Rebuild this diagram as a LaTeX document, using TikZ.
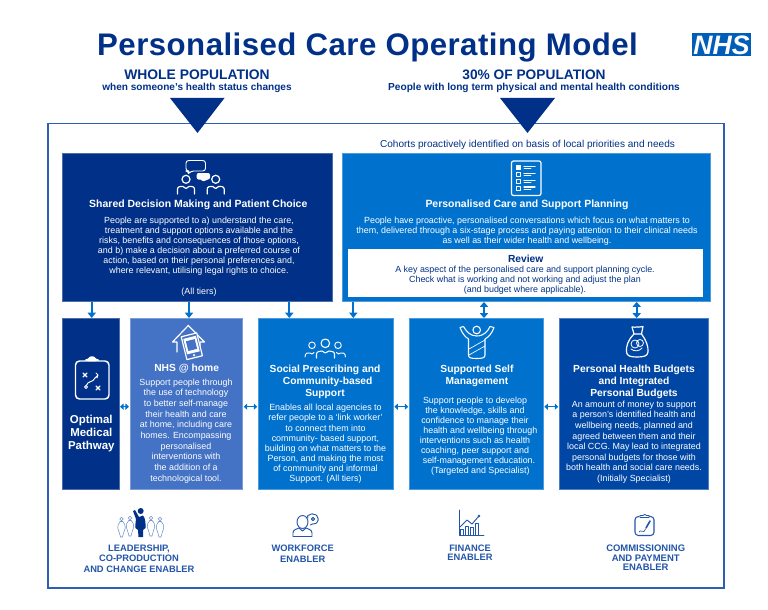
\documentclass[tikz,border=0pt]{standalone}
\usepackage{fontspec}
\setmainfont{Liberation Sans}
\usetikzlibrary{fit,arrows.meta}
\definecolor{nhsdark}{HTML}{003087}
\definecolor{nhsbright}{HTML}{0072CE}
\definecolor{nhsmid}{HTML}{4472C4}
\definecolor{nhsroyal}{HTML}{0047A5}
\definecolor{framec}{HTML}{2F5FB3}
\definecolor{enablerc}{HTML}{2356A8}
\definecolor{logoc}{HTML}{005EB8}
\newcommand\fs[2]{\fontsize{#1}{#2}\selectfont}
\tikzset{
 x=0.75pt,y=-0.75pt,
 boxn/.style={fit={#1},inner sep=0pt,line width=0.4pt},
 txt/.style={inner sep=0pt,align=center,yshift=-0.75pt},
 body/.style={txt,text=white,font=\fs{6.68}{7.5}},
 bodyb/.style={txt,text=white,font=\fs{6.68}{8}},
 head/.style={txt,text=white,font=\bfseries\fs{7.7}{9.1}},
 enab/.style={txt,text=enablerc,font=\bfseries\fs{7}{8}},
 arrd/.style={draw=nhsbright,line width=1.7pt,-{Triangle[length=4pt,width=6pt]}},
 arrb/.style={draw=nhsbright,line width=1.7pt,{Triangle[length=3.6pt,width=6pt]}-{Triangle[length=3.6pt,width=6pt]}},
 arrh/.style={draw=nhsbright,line width=1.1pt,{Triangle[length=2.6pt,width=4.6pt]}-{Triangle[length=2.6pt,width=4.6pt]},shorten >=0.6pt,shorten <=0.6pt},
 ico/.style={draw=white,line width=0.9pt,line cap=round,line join=round},
 eico/.style={draw=enablerc,line width=0.7pt,line cap=round,line join=round},
}
\begin{document}
\begin{tikzpicture}
\useasboundingbox (0,0) rectangle (768,610);
\fill[white] (0,0) rectangle (768,610);
% titles
\node[txt,text=nhsdark,font=\bfseries\fs{23.4}{26}\addfontfeature{LetterSpace=1.5}] (title) at (367.5,47) {Personalised Care Operating Model};
\node[boxn={(692,33)(751,56)},fill=logoc] (logo) {};
\node[txt,text=white,font=\bfseries\itshape\fs{20}{20}] (logot) at (721.5,44) {NHS};
\node[txt,text=nhsdark,font=\bfseries\fs{10.4}{12}] (wp) at (197,73.5) {WHOLE POPULATION};
\node[txt,text=nhsdark,font=\bfseries\fs{7.55}{9}] (wps) at (197,86.5) {when someone's health status changes};
\node[txt,text=nhsdark,font=\bfseries\fs{10.3}{12}] (tp) at (534,73.5) {30\% OF POPULATION};
\node[txt,text=nhsdark,font=\bfseries\fs{7.6}{9}] (tps) at (534,86.5) {People with long term physical and mental health conditions};
% frame
\node[boxn={(48,123.5)(724,588)},draw=framec,line width=1.1pt] (frame) {};
\fill[nhsdark] (170,98) -- (224.5,98) -- (197.5,133) -- cycle;
\fill[nhsdark] (500,98) -- (555,98) -- (527.5,133) -- cycle;
\node[txt,text=nhsdark,font=\fs{7.55}{9}] (coh) at (527.5,143.5) {Cohorts proactively identified on basis of local priorities and needs};
% upper boxes
\node[boxn={(62.7,153.5)(332,301.7)},fill=nhsdark,draw=nhsdark!70!white] (sdm) {};
\node[boxn={(342.3,153.5)(710,301.7)},fill=nhsbright,draw=nhsbright!70!white] (pcsp) {};
\node[boxn={(347.7,249.3)(703.3,296.7)},fill=white] (rev) {};
% lower boxes
\node[boxn={(62.7,318.3)(119,489)},fill=nhsdark,draw=nhsdark!70!white] (omp) {};
\node[boxn={(130,318.3)(242.7,489)},fill=nhsmid,draw=nhsmid!70!white] (home) {};
\node[boxn={(258.3,318.3)(393.3,489)},fill=nhsbright,draw=nhsbright!70!white] (soc) {};
\node[boxn={(409.3,318.3)(543.3,489)},fill=nhsbright,draw=nhsbright!70!white] (ssm) {};
\node[boxn={(559.3,318.3)(708.3,489)},fill=nhsroyal,draw=nhsroyal!70!white] (phb) {};
% connector positions
\coordinate (c1) at (91.7,0);
\coordinate (c2) at (189,0);
\coordinate (c3) at (289.3,0);
\coordinate (c4) at (353.3,0);
\coordinate (c5) at (484,0);
\coordinate (c6) at (636.7,0);
\coordinate (hy) at (0,406.7);
\draw[arrd] (sdm.south -| c1) -- (omp.north -| c1);
\draw[arrd] (sdm.south -| c2) -- (home.north -| c2);
\draw[arrd] (sdm.south -| c3) -- (soc.north -| c3);
\draw[arrd] (pcsp.south -| c4) -- (soc.north -| c4);
\draw[arrb] (pcsp.south -| c5) -- (ssm.north -| c5);
\draw[arrb] (pcsp.south -| c6) -- (phb.north -| c6);
\draw[arrh] (omp.east |- hy) -- (home.west |- hy);
\draw[arrh] (home.east |- hy) -- (soc.west |- hy);
\draw[arrh] (soc.east |- hy) -- (ssm.west |- hy);
\draw[arrh] (ssm.east |- hy) -- (phb.west |- hy);
% texts upper
\node[head,font=\bfseries\fs{7.85}{9}] (sdmh) at (198.3,204.3) {Shared Decision Making and Patient Choice};
\node[body] (sdmb) at (199,245) {People are supported to a) understand the care,\\treatment and support options available and the\\risks, benefits and consequences of those options,\\and b) make a decision about a preferred course of\\action, based on their personal preferences and,\\where relevant, utilising legal rights to choice.};
\node[body] (sdmt) at (199,291) {(All tiers)};
\node[head,font=\bfseries\fs{7.85}{9}] (pcsph) at (527,204.3) {Personalised Care and Support Planning};
\node[body] (pcspb) at (527,230) {People have proactive, personalised conversations which focus on what matters to\\them, delivered through a six-stage process and paying attention to their clinical needs\\as well as their wider health and wellbeing.};
\node[txt,text=nhsdark,font=\bfseries\fs{7.7}{9}] (revh) at (525.7,258.3) {Review};
\node[txt,text=nhsdark,font=\fs{6.68}{7.25}] (revb) at (525,279.3) {A key aspect of the personalised care and support planning cycle.\\Check what is working and not working and adjust the plan\\(and budget where applicable).};
% texts lower
\node[txt,text=white,font=\bfseries\fs{8.6}{9.75}] (ompt) at (91.3,433) {Optimal\\Medical\\Pathway};
\node[head] (homeh) at (186.7,368) {NHS @ home};
\node[bodyb] (homeb) at (186,430) {Support people through\\the use of technology\\to better self-manage\\their health and care\\at home, including care\\homes. Encompassing\\personalised\\interventions with\\the addition of a\\technological tool.};
\node[head] (soch) at (325,381) {Social Prescribing and\\\hspace*{4pt}Community-based\\Support};
\node[body,font=\fs{6.68}{7.6}] (socb) at (325.5,443) {Enables all local agencies to\\refer people to a ‘link worker’\\to connect them into\\community- based support,\\building on what matters to the\\Person, and making the most\\of community and informal\\Support. (All tiers)};
\node[head] (ssmh) at (477,375) {Supported Self\\Management};
\node[body] (ssmb) at (475,435.5) {Support people to develop\\the knowledge, skills and\\confidence to manage their\\\hspace*{8pt}health and wellbeing through\\interventions such as health\hspace*{12pt}\\coaching, peer support and\\\hspace*{6pt}self-management education.\\\hspace*{8pt}(Targeted and Specialist)};
\node[head] (phbh) at (634,381) {Personal Health Budgets\\and Integrated\\Personal Budgets};
\node[bodyb,font=\fs{6.68}{7.93}] (phbb) at (634,441) {An amount of money to support\\a person's identified health and\\wellbeing needs, planned and\\agreed between them and their\\local CCG. May lead to integrated\\personal budgets for those with\\both health and social care needs.\\(Initially Specialist)};
% enablers
\node[enab] (e1) at (139,557.5) {LEADERSHIP,\\CO-PRODUCTION\\AND CHANGE ENABLER};
\node[enab] (e2) at (302.7,552.5) {WORKFORCE\\ENABLER};
\node[enab,font=\bfseries\fs{7}{7.3}] (e3) at (470,551.8) {FINANCE\\ENABLER};
\node[enab,font=\bfseries\fs{7.1}{7.3}] (e4) at (645.7,556.8) {COMMISSIONING\\AND PAYMENT\\ENABLER};
% icon: shared decision
\draw[ico,line width=0.7pt,rounded corners=2pt] (186,160.5) -- (205.5,160.5) -- (205.5,171) -- (191,171) -- (188.5,174) -- (188.5,171) -- (186,171) -- cycle;
\fill[white,rounded corners=1.5pt] (196.7,173) -- (210,173) -- (210,179.5) -- (206,179.5) -- (203.5,182) -- (202.5,179.5) -- (196.7,179.5) -- cycle;
\foreach \cx in {186,215.7}{
 \draw[ico] (\cx,179.3) circle (4);
 \draw[ico] (\cx-8.5,194) -- (\cx-8.5,189) .. controls (\cx-8.5,186.5) and (\cx-5,186) .. (\cx-3,186.5) -- (\cx,188.5) -- (\cx+3,186.5) .. controls (\cx+5,186) and (\cx+8.5,186.5) .. (\cx+8.5,189) -- (\cx+8.5,194);
}
% icon: checklist
\draw[ico,rounded corners=1.5pt] (511.5,161) rectangle (541,195.5);
\foreach \ry in {167.7,174.5,181.3,188}{
 \draw[ico,line width=0.6pt] (516,\ry-2) rectangle (520.5,\ry+2);
 \draw[ico] (524,\ry-1) -- (535,\ry-1);
 \draw[ico,line width=0.5pt] (524,\ry+1) -- (531,\ry+1);
}
\fill[white] (516,165.7) rectangle (520.5,169.7);
% icon: clipboard
\draw[ico,line width=1.1pt,rounded corners=3pt] (86,361) -- (75.5,361) -- (75.5,399) -- (109,399) -- (109,361) -- (98,361);
\draw[ico,fill=white,rounded corners=1pt] (86,361) -- (86,359.5) -- (89,359.5) .. controls (89.5,356.5) and (94.5,356.5) .. (95,359.5) -- (98,359.5) -- (98,361) -- cycle;
\draw[ico,line width=0.8pt] (83,373) -- (87,377) (87,373) -- (83,377);
\draw[ico,line width=0.8pt] (96,386) -- (100,390) (100,386) -- (96,390);
\draw[ico,line width=0.7pt] (86,386) .. controls (88,380) and (93,383) .. (95,378);
\draw[ico,line width=0.7pt] (86,387) circle (1.5);
\draw[ico,line width=0.7pt] (95,378) -- (98,375) (96,373) -- (98,375) (97,378) -- (98,375);
% icon: house
\draw[ico] (177,352) -- (177,342) -- (172.5,342) -- (188.3,325.5) -- (204.5,342) -- (200,342) -- (200,350);
\draw[ico,fill=nhsmid,rotate around={14:(192,347)}] (184,334.5) rectangle (200,358);
\fill[white,rotate around={14:(192,347)}] (185.5,337) rectangle (198.5,353);
\fill[nhsmid,rotate around={14:(192,347)}] (187.5,340) rectangle (196.5,350);
\draw[ico,line width=0.4pt,rotate around={14:(192,347)}] (192,355.5) circle (1);
% icon: three people
\draw[ico,line width=0.8pt] (325.3,343.3) circle (4.3);
\draw[ico,line width=0.7pt] (312,345.3) circle (3.3) (338,345.3) circle (3.3);
\draw[ico,line width=0.8pt] (316.5,358) -- (316.5,354) .. controls (316.5,351.5) and (320,351) .. (322,351) -- (325.3,353) -- (329,351) .. controls (331,351) and (334.5,351.5) .. (334.5,354) -- (334.5,358);
\draw[ico,line width=0.7pt] (305,357) .. controls (305,353) and (308,352) .. (310,353) -- (312,354) -- (314,352.5);
\draw[ico,line width=0.7pt] (345.5,357) .. controls (345.5,353) and (342.5,352) .. (340.5,353) -- (338.5,354) -- (336.5,352.5);
% icon: self management
\draw[ico,line width=0.8pt] (476.7,330) circle (3.8);
\draw[ico,line width=0.8pt] (460,327.5) .. controls (462,333) and (465,337) .. (468.5,339) -- (468.5,355) .. controls (468.5,358) and (471,358.5) .. (476.7,358.5) .. controls (482,358.5) and (485,358) .. (485,355) -- (485,339) .. controls (489,337) and (492,333) .. (494,327.5) -- (490,326.5) .. controls (488,331) and (484,336) .. (476.7,336) .. controls (470,336) and (466,331) .. (463.5,326.5) -- cycle;
\draw[ico,line width=0.5pt] (469,349) -- (485,340) (469,355) -- (485,346);
% icon: bag
\draw[ico] (632,327) .. controls (634,328.5) and (636,326) .. (637,327) .. controls (639,328) and (641,326) .. (643,326.5) -- (641.5,334) -- (634,334) -- cycle;
\draw[ico] (634,334) .. controls (628,340) and (626,346) .. (626.5,352) .. controls (627,356) and (630,357) .. (637,357) .. controls (644,357) and (647.5,356) .. (648,352) .. controls (648.5,346) and (646,340) .. (641.5,334);
\draw[ico,line width=0.6pt] (635,344) circle (4) (640,343) circle (3.5);
\draw[ico,line width=0.6pt] (631,349) .. controls (634,352) and (640,351) .. (642,348);
% icon: leadership
\foreach \fx/\fy in {121.5/519,130/518,151/518,160/519}{
 \draw[draw=framec!70!white,line width=0.4pt] (\fx,\fy) circle (1.8);
 \draw[draw=framec!70!white,line width=0.4pt] (\fx-1.2,\fy+2.5) -- (\fx+1.2,\fy+2.5) .. controls (\fx+3,\fy+3.5) and (\fx+3.8,\fy+7) .. (\fx+3.8,\fy+9) .. controls (\fx+3,\fy+11) and (\fx+2,\fy+14) .. (\fx+1,\fy+18) -- (\fx-1,\fy+18) .. controls (\fx-2,\fy+14) and (\fx-3,\fy+11) .. (\fx-3.8,\fy+9) .. controls (\fx-3.8,\fy+7) and (\fx-3,\fy+3.5) .. cycle;
}
\fill[nhsdark] (140.7,511) circle (3);
\fill[nhsdark] (133,511) -- (135,510) -- (139,517) -- (143,515.5) .. controls (145,517) and (146,524) .. (145.5,528) -- (143,530) -- (143,537) -- (138.5,537) -- (138,530) -- (135.5,528) .. controls (135,524) and (136,521) .. (136,519) -- cycle;
% icon: workforce
\draw[eico] (302.5,522) ellipse (5.5 and 6.5);
\draw[eico] (293,536.5) -- (293,533) .. controls (293,529.5) and (297,529) .. (299,528) -- (302.5,531) -- (306,528) .. controls (308,529) and (312,529.5) .. (312,533) -- (312,536.5) -- cycle;
\draw[eico,rounded corners=1pt] (308,518) -- (307,515) -- (310,515.5) -- (311.5,513) -- (314,515) -- (317,514.5) -- (317,517.5) -- (319,519.5) -- (317,521.5) -- (316.5,524) -- (313,523.5) -- (310.5,525);
\draw[eico] (313,519) circle (1.6);
% icon: finance
\draw[eico,line width=0.6pt] (459.3,510) -- (459.3,535.7) -- (484,535.7);
\foreach \bx/\bt in {462/529,467/526,472/527,477/523}{
 \draw[eico,line width=0.6pt] (\bx-1.5,535.7) -- (\bx-1.5,\bt) -- (\bx+1.5,\bt) -- (\bx+1.5,535.7);
}
\draw[eico] (460,527) -- (467,520) -- (472,524) -- (479,516);
\fill[enablerc] (479,516) circle (1.3);
% icon: commissioning
\draw[eico,line width=0.8pt,rounded corners=2.5pt] (639,516.5) -- (635,516.5) -- (635,535.5) -- (654,535.5) -- (654,516.5) -- (649,516.5);
\draw[eico,fill=white,line width=0.6pt] (640,517.5) -- (640,515.5) -- (643,515.5) .. controls (643.5,514) and (646,514) .. (646.5,515.5) -- (649,515.5) -- (649,517.5) -- cycle;
\draw[eico,line width=1.2pt] (646,528) -- (650,521);
\draw[eico,line width=0.5pt] (639,532) .. controls (641,529) and (642,533) .. (644,531.5) -- (645.5,529);
\end{tikzpicture}
\end{document}
